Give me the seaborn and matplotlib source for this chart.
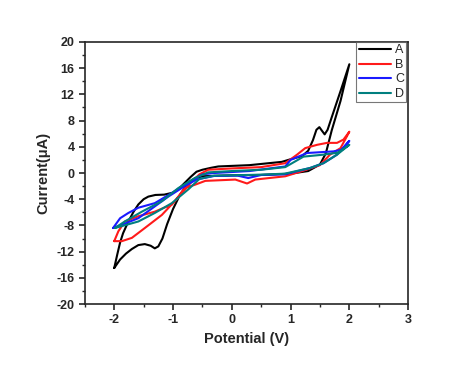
import numpy as np
import pandas as pd
import seaborn as sns
import matplotlib.pyplot as plt
from matplotlib.ticker import MultipleLocator

# CV curves, each traced as a closed loop (potential V, current uA)
v_a = [-2.0, -1.95, -1.9, -1.85, -1.76, -1.67, -1.59, -1.5, -1.42, -1.3, -1.15, -1.0, -0.9,
       -0.8, -0.7, -0.6, -0.5, -0.35, -0.23, 0.3, 0.85, 1.0, 1.2, 1.3, 1.38, 1.44, 1.49, 1.53,
       1.58, 1.63, 1.7, 1.85, 2.0, 1.85, 1.7, 1.6, 1.5, 1.3, 1.0, 0.5, 0.0, -0.5, -0.62, -0.74,
       -0.88, -1.0, -1.1, -1.18, -1.25, -1.31, -1.38, -1.48, -1.59, -1.7, -1.8, -1.9, -2.0]
i_a = [-14.5, -12.5, -10.6, -9.2, -7.4, -5.9, -4.8, -4.0, -3.6, -3.35, -3.3, -3.0, -2.4,
       -1.5, -0.6, 0.2, 0.5, 0.8, 1.0, 1.2, 1.7, 2.1, 2.6, 3.4, 5.0, 6.6, 7.0, 6.5,
       5.9, 6.6, 8.5, 12.5, 16.6, 11.0, 6.5, 3.0, 1.3, 0.3, -0.1, -0.3, -0.35, -0.5, -0.8, -1.5,
       -3.3, -5.5, -7.8, -10.0, -11.2, -11.5, -11.1, -10.85, -11.0, -11.6, -12.3, -13.2, -14.5]

v_b = [-2.0, -1.93, -1.82, -1.59, -1.31, -1.02, -0.85, -0.7, -0.55, -0.4, 0.0, 0.5, 0.91,
       1.11, 1.25, 1.45, 1.62, 1.79, 1.9, 2.0, 1.85, 1.67, 1.5, 1.2, 0.91, 0.4, 0.26, 0.06,
       -0.45, -0.63, -0.8, -0.97, -1.19, -1.48, -1.7, -1.87, -2.0]
i_b = [-10.4, -8.9, -7.4, -6.6, -5.9, -4.8, -3.1, -1.5, -0.2, 0.5, 0.7, 0.9, 1.5,
       2.8, 3.8, 4.3, 4.6, 4.6, 5.1, 6.3, 3.8, 2.8, 1.2, 0.3, -0.5, -1.0, -1.6, -1.0,
       -1.2, -1.8, -2.3, -4.3, -6.4, -8.4, -9.9, -10.4, -10.4]

v_c = [-2.02, -1.9, -1.76, -1.59, -1.31, -1.02, -0.75, -0.5, -0.3, 0.3, 0.91, 1.0, 1.28,
       1.73, 1.87, 2.0, 1.79, 1.56, 1.33, 0.9, 0.5, 0.28, 0.1, -0.3, -0.6, -0.8, -1.08,
       -1.31, -1.59, -1.87, -2.02]
i_c = [-8.4, -6.9, -6.1, -5.3, -4.6, -3.05, -1.5, -0.2, 0.0, 0.3, 1.0, 2.0, 3.05,
       3.3, 3.55, 4.9, 2.8, 1.5, 0.76, -0.2, -0.3, -0.77, -0.4, -0.45, -1.0, -2.0, -3.6,
       -5.1, -6.9, -7.9, -8.4]

v_d = [-1.99, -1.82, -1.53, -1.19, -0.91, -0.63, -0.4, 0.0, 0.5, 0.91, 1.22, 1.56,
       1.8, 2.0, 1.79, 1.56, 1.33, 0.9, 0.5, 0.0, -0.3, -0.55, -0.74, -1.02, -1.31,
       -1.59, -1.87, -1.99]
i_d = [-8.4, -7.4, -5.9, -4.3, -2.3, -0.77, 0.1, 0.3, 0.5, 0.9, 2.5, 2.8,
       3.1, 4.3, 2.8, 1.5, 0.76, -0.1, -0.25, -0.35, -0.4, -0.9, -2.5, -4.6, -6.1,
       -7.4, -8.1, -8.4]

labels = ['A', 'B', 'C', 'D']
colors = ['#000000', '#ff1a1a', '#1a1aff', '#007f7f']

frames = []
for lab, v, i in zip(labels, [v_a, v_b, v_c, v_d], [i_a, i_b, i_c, i_d]):
    frames.append(pd.DataFrame({'Potential': v, 'Current': i, 'Sample': lab}))
df = pd.concat(frames, ignore_index=True)

sns.set_style('ticks')
plt.rcParams['font.family'] = ['Liberation Sans', 'DejaVu Sans']
plt.rcParams['font.weight'] = 'bold'
plt.rcParams['axes.unicode_minus'] = False

fig = plt.figure(figsize=(4.74, 3.65), dpi=100)
ax = fig.add_axes([0.179, 0.167, 0.682, 0.718])

sns.lineplot(data=df, x='Potential', y='Current', hue='Sample', palette=colors,
             sort=False, estimator=None, linewidth=1.5, ax=ax)

ax.set_xlim(-2.5, 3)
ax.set_ylim(-20, 20)
ax.xaxis.set_major_locator(MultipleLocator(1))
ax.xaxis.set_minor_locator(MultipleLocator(0.5))
ax.yaxis.set_major_locator(MultipleLocator(4))
ax.yaxis.set_minor_locator(MultipleLocator(2))
ax.tick_params(which='major', direction='out', length=4, width=1.2, labelsize=9)
ax.tick_params(which='minor', direction='out', length=2, width=1.0)
for lbl in ax.get_xticklabels() + ax.get_yticklabels():
    lbl.set_fontweight('bold')
for s in ax.spines.values():
    s.set_linewidth(1.2)

ax.set_xlabel('Potential (V)', fontsize=10.5, fontweight='bold')
ax.set_ylabel('Current(μA)', fontsize=10.5, fontweight='bold')

leg = ax.legend(loc='upper right', bbox_to_anchor=(0.995, 1.0), borderaxespad=0,
                frameon=True, fancybox=False, fontsize=9, handlelength=2.6,
                labelspacing=0.2, borderpad=0.2, handletextpad=0.3)
leg.get_frame().set_edgecolor('#555555')
leg.get_frame().set_linewidth(0.8)
for t in leg.get_texts():
    t.set_fontweight('normal')

fig.savefig('out.png', dpi=100)
